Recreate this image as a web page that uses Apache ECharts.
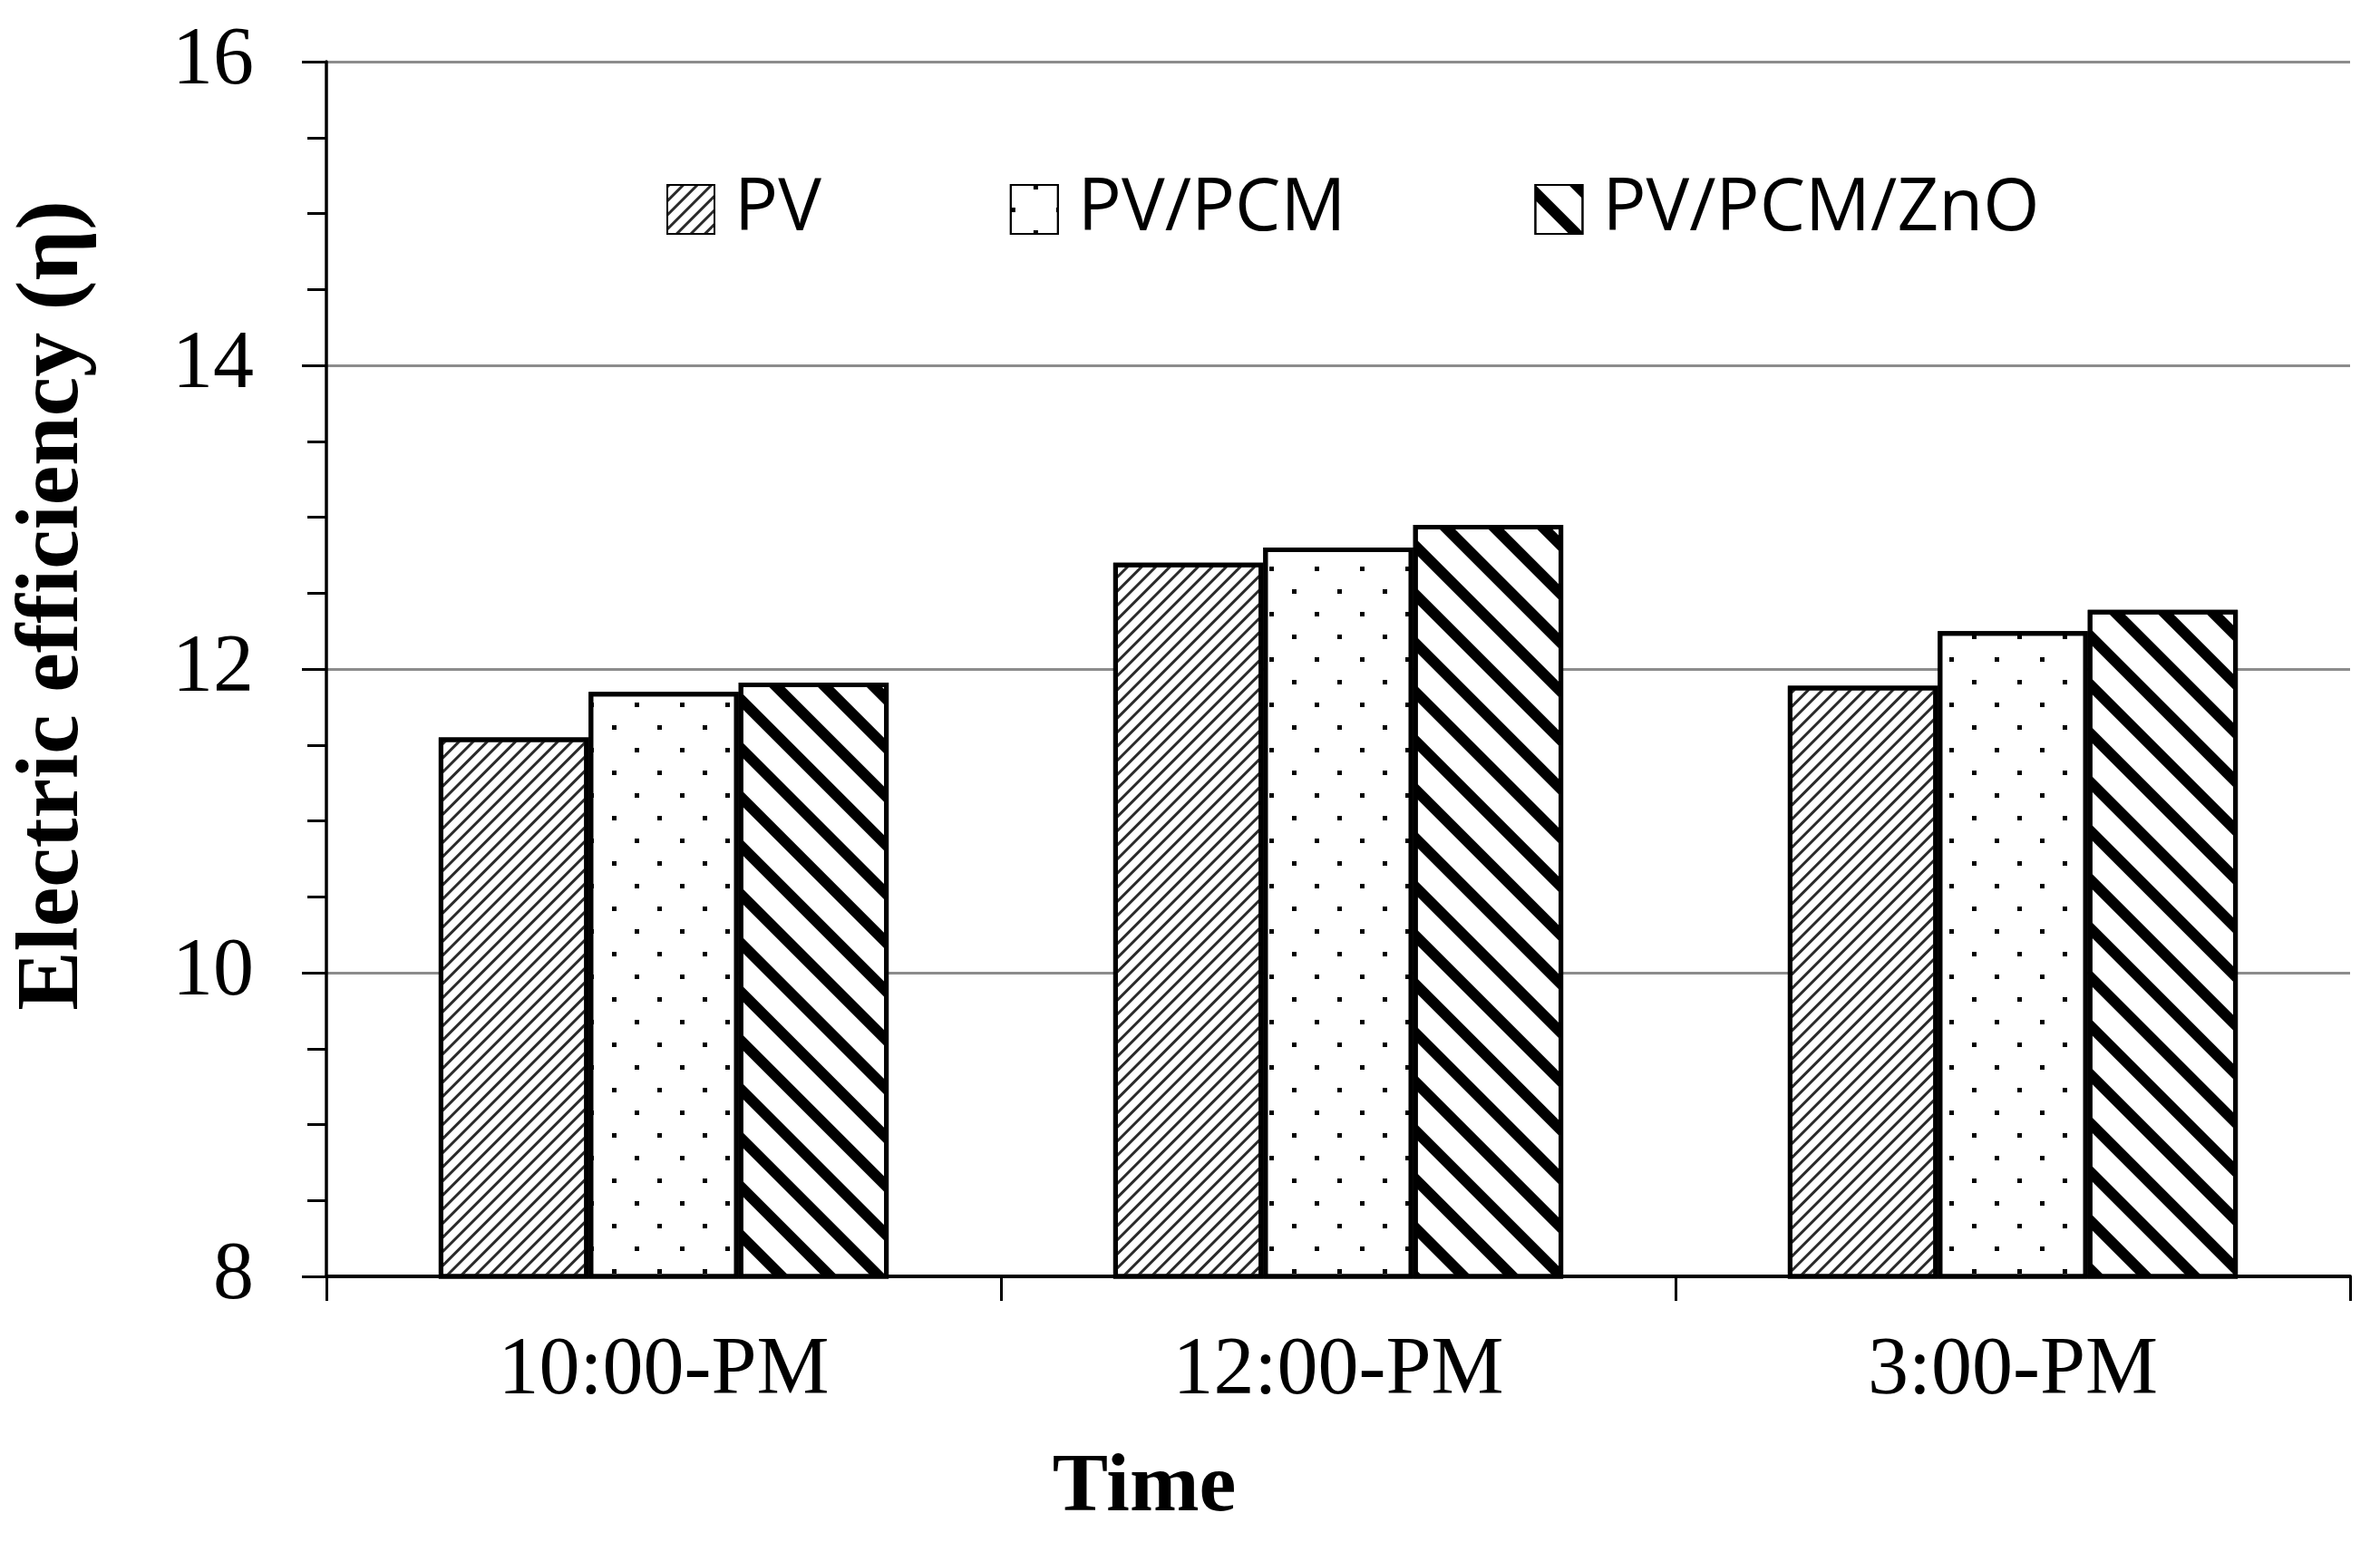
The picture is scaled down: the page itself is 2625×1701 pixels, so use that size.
<!DOCTYPE html>
<html lang="en">
<head>
<meta charset="UTF-8">
<title>Electric efficiency</title>
<script src="https://cdn.jsdelivr.net/npm/echarts@6/dist/echarts.min.js"></script>
<style>
    html, body { margin: 0; padding: 0; background: #fff; }
    #chart { width: 2625px; height: 1701px; }
</style>
</head>
<body>
<div id="chart"></div>
<script>
    var categories = ['10:00-PM', '12:00-PM', '3:00-PM']
    var seriesNames = ['PV', 'PV/PCM', 'PV/PCM/ZnO']
    var pvData = [11.55, 12.70, 11.89]
    var pcmData = [11.85, 12.80, 12.25]
    var znoData = [11.91, 12.95, 12.39]
    var yMin = 8
    var yMax = 16
    var yStep = 2

    var serif = '"Liberation Serif", "Times New Roman", serif'

    function decal(opts) {
        return Object.assign({
            symbol: 'rect',
            symbolSize: 1,
            symbolKeepAspect: false,
            color: '#000',
            backgroundColor: null,
            rotation: 0,
            maxTileWidth: 512,
            maxTileHeight: 512
        }, opts)
    }

    // fine "/" hatch, dots, thick "\" stripes
    var decals = [
        decal({ color: '#2a2a2a', dashArrayX: [10, 0], dashArrayY: [3, 7.6], rotation: -Math.PI / 4 }),
        decal({ dashArrayX: [[5, 45], [0, 25, 5, 20]], dashArrayY: [5, 20] }),
        decal({ dashArrayX: [10, 0], dashArrayY: [11.5, 25.5], rotation: Math.PI / 4 })
    ]
    var values = [pvData, pcmData, znoData]

    var series = seriesNames.map(function(name, i) {
        return {
            name: name,
            type: 'bar',
            data: values[i],
            barGap: '0%',
            barCategoryGap: '33.3%',
            itemStyle: {
                color: '#fff',
                borderColor: '#000',
                borderWidth: 5,
                decal: decals[i]
            }
        }
    })

    var myChart = echarts.init(document.getElementById('chart'))
    var option = {
        animation: false,
        backgroundColor: '#fff',
        grid: { left: 360, right: 33, top: 68, bottom: 293 },
        legend: {
            left: 730,
            top: 186,
            itemWidth: 52,
            itemHeight: 54,
            itemGap: 208,
            icon: 'rect',
            textStyle: { fontFamily: '"Open Sans", sans-serif', fontSize: 80, color: '#000', padding: [0, 0, 0, 17] },
            data: seriesNames
        },
        xAxis: {
            type: 'category',
            data: categories,
            axisLine: { lineStyle: { color: '#000', width: 4 } },
            axisTick: { show: true, length: 27, lineStyle: { color: '#000', width: 3 } },
            axisLabel: { fontFamily: serif, fontSize: 90, color: '#000', margin: 60 }
        },
        yAxis: {
            type: 'value',
            min: yMin,
            max: yMax,
            interval: yStep,
            axisLine: { show: true, lineStyle: { color: '#000', width: 3.5 } },
            axisTick: { show: true, length: 27, lineStyle: { color: '#000', width: 3 } },
            minorTick: { show: true, splitNumber: 4, length: 21, lineStyle: { color: '#000', width: 3 } },
            splitLine: { show: true, lineStyle: { color: '#8c8c8c', width: 3 } },
            axisLabel: { fontFamily: serif, fontSize: 90, color: '#000', margin: 80 }
        },
        graphic: [{
            type: 'text',
            x: 60,
            y: 668,
            rotation: Math.PI / 2,
            style: {
                text: 'Electric efficiency (η)',
                fontFamily: serif,
                fontWeight: 'bold',
                fontSize: 98,
                fill: '#000',
                align: 'center',
                verticalAlign: 'middle'
            }
        }, {
            type: 'text',
            x: 1262,
            y: 1642,
            style: {
                text: 'Time',
                fontFamily: serif,
                fontWeight: 'bold',
                fontSize: 92,
                fill: '#000',
                align: 'center',
                verticalAlign: 'middle'
            }
        }],
        series: series
    }
    myChart.setOption(option)
</script>
</body>
</html>
